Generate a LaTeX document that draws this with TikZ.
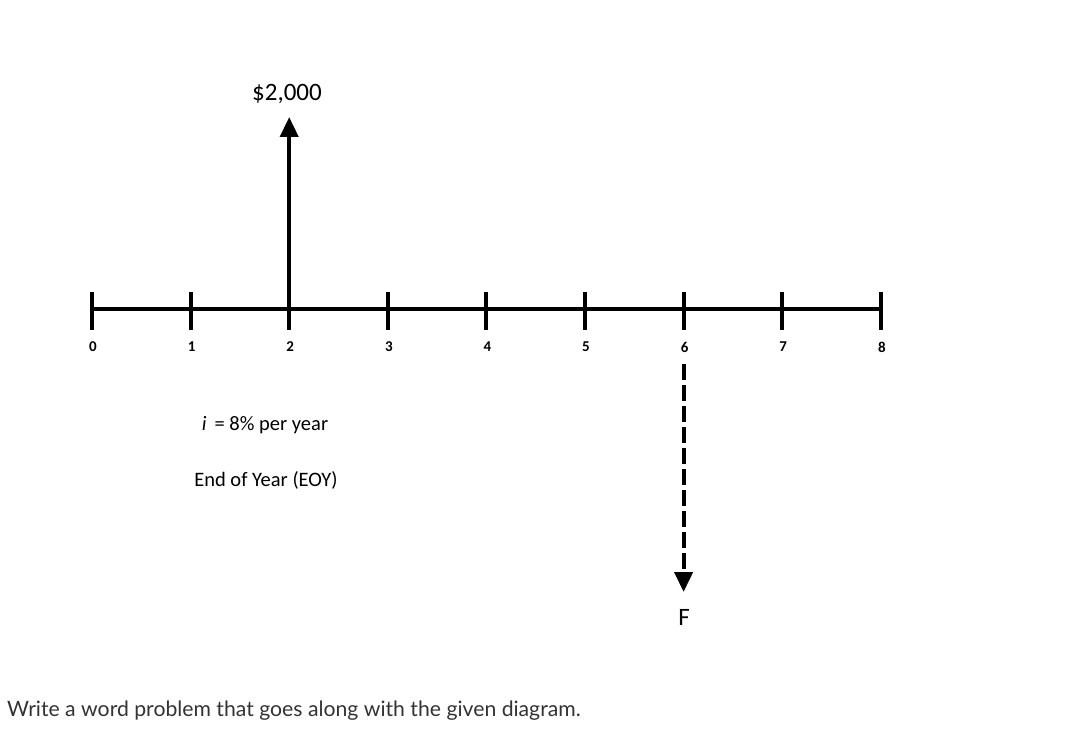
\documentclass[tikz,border=0pt]{standalone}
\usepackage{fontspec}
\setmainfont{Carlito}
\newfontfamily\latofont{Lato}
\usetikzlibrary{arrows.meta}
\tikzstyle{tick_label} = [font=\bfseries\fontsize{15}{17}\selectfont, inner sep=0pt]
\tikzstyle{edge_time} = [line width=4pt]
\tikzstyle{edge_cash} = [line width=4pt, -{Triangle[length=20pt, width=18pt]}]

\begin{document}
\begin{tikzpicture}[x=1pt, y=-1pt]
\useasboundingbox (0,0) rectangle (1082,754);
\def\dx{98.6}
% time axis
\coordinate (T0) at (92,309);
\coordinate (T8) at ({92+8*\dx},309);
\draw[edge_time] (T0) -- (T8);
\foreach \k in {0,...,8} {
  \coordinate (P\k) at ({92+\k*\dx},309);
  \draw[edge_time] ({92+\k*\dx},292) -- ({92+\k*\dx},330);
  \node (L\k) at ({93+\k*\dx},347) [tick_label] {\k};
}
% receipt at EOY 2
\coordinate (up) at (P2 |- 0,117);
\draw[edge_cash] (P2) -- (up);
\node (pay) at (287,94) [font=\fontsize{25}{28}\selectfont] {\$2,000};
% future value at EOY 6
\coordinate (dtop) at (P6 |- 0,364);
\coordinate (dbot) at (P6 |- 0,592);
\draw[edge_cash, dash pattern=on 16pt off 5pt] (dtop) -- (dbot);
\node (F) at (684,617) [font=\fontsize{25}{28}\selectfont] {F};
% notes
\node (rate) at (265,425) [font=\fontsize{20.5}{24}\selectfont] {\textit{i}\, = 8\% per year};
\node (eoy) at (266,480) [font=\fontsize{20.5}{24}\selectfont] {End of Year (EOY)};
\node (task) at (7,711) [anchor=west, inner sep=0pt, text=black!80, font=\latofont\fontsize{21.2}{25}\selectfont] {Write a word problem that goes along with the given diagram.};
\end{tikzpicture}
\end{document}
